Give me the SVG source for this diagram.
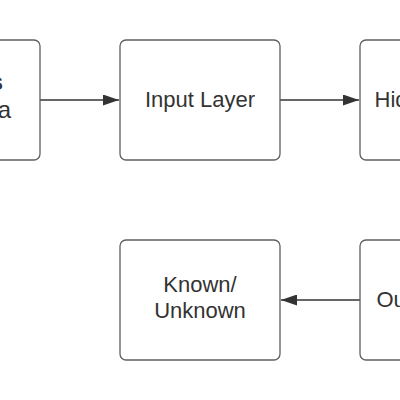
<svg xmlns="http://www.w3.org/2000/svg" width="400" height="400" viewBox="0 0 400 400">
<defs>
<style>
.box{fill:#ffffff;stroke:#5f5f5f;stroke-width:1.3}
.lbl{font-family:"Liberation Sans",Arial,sans-serif;font-size:22px;fill:#333333;text-anchor:middle}
.edge{stroke:#333333;stroke-width:1.3;fill:none}
</style>
<marker id="arr" viewBox="0 0 16 11" refX="16" refY="5.5" markerWidth="16" markerHeight="11" markerUnits="userSpaceOnUse" orient="auto">
<path d="M0,0 L16,5.5 L0,11 Z" fill="#333333"/>
</marker>
</defs>
<rect width="400" height="400" fill="#ffffff"/>
<g id="edges">
<line class="edge" x1="40" y1="100" x2="119" y2="100" marker-end="url(#arr)"/>
<line class="edge" x1="280" y1="100" x2="359" y2="100" marker-end="url(#arr)"/>
<line class="edge" x1="360" y1="300" x2="281" y2="300" marker-end="url(#arr)"/>
</g>
<g id="node-source">
<rect class="box" x="-120" y="40" width="160" height="120" rx="6"/>
<text x="3" y="90" style="font-family:'Liberation Sans',Arial,sans-serif;font-size:24px;font-weight:bold;fill:#333333;text-anchor:end">s</text>
<text x="11" y="118" style="font-family:'Liberation Sans',Arial,sans-serif;font-size:24px;fill:#333333;text-anchor:end">a</text>
</g>
<g id="node-input">
<rect class="box" x="120" y="40" width="160" height="120" rx="6"/>
<text class="lbl" x="200" y="107">Input Layer</text>
</g>
<g id="node-hidden">
<rect class="box" x="360" y="40" width="160" height="120" rx="6"/>
<text class="lbl" x="440" y="107">Hidden Layer</text>
</g>
<g id="node-output">
<rect class="box" x="360" y="240" width="160" height="120" rx="6"/>
<text class="lbl" x="440" y="307">Output Layer</text>
</g>
<g id="node-known">
<rect class="box" x="120" y="240" width="160" height="120" rx="6"/>
<text class="lbl" x="200" y="292">Known/</text>
<text class="lbl" x="200" y="317.5">Unknown</text>
</g>
</svg>
